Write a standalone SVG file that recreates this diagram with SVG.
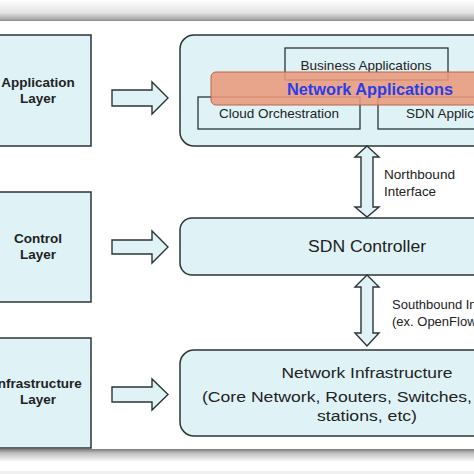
<svg xmlns="http://www.w3.org/2000/svg" width="474" height="474" viewBox="0 0 474 474">
<defs>
<linearGradient id="topg" x1="0" y1="0" x2="0" y2="1">
<stop offset="0" stop-color="#ffffff"/>
<stop offset="0.6" stop-color="#e4e4e4"/>
<stop offset="0.92" stop-color="#a8a8a8"/>
<stop offset="1" stop-color="#8a8a8a"/>
</linearGradient>
<linearGradient id="botg" x1="0" y1="0" x2="0" y2="1">
<stop offset="0" stop-color="#7a7a7a"/>
<stop offset="0.3" stop-color="#bdbdbd"/>
<stop offset="1" stop-color="#ffffff"/>
</linearGradient>
<style>
.box{fill:#dff3f7;stroke:#2b3535;stroke-width:1.5}
.inner{fill:#dff3f7;stroke:#2b3535;stroke-width:1.3}
.arr{fill:#dff3f7;stroke:#2b3535;stroke-width:1.4;stroke-linejoin:miter}
.lbl{font-family:"Liberation Sans",Arial,sans-serif;font-weight:bold;font-size:13.5px;fill:#222;text-anchor:middle}
.t{font-family:"Liberation Sans",Arial,sans-serif;fill:#222}
</style>
</defs>
<rect x="0" y="0" width="474" height="474" fill="#ffffff"/>
<rect x="0" y="0" width="474" height="21" fill="url(#topg)"/>
<rect x="0" y="449" width="474" height="13" fill="url(#botg)"/>
<rect x="0" y="471" width="474" height="3" fill="#f0f0f0"/>

<g id="app-layer">
<rect class="box" x="-5" y="35" width="96" height="111"/>
<text class="lbl" x="38" y="87">Application</text>
<text class="lbl" x="38" y="103">Layer</text>
</g>
<g id="control-layer">
<rect class="box" x="-5" y="192" width="96" height="110"/>
<text class="lbl" x="38" y="243">Control</text>
<text class="lbl" x="38" y="259">Layer</text>
</g>
<g id="infra-layer">
<rect class="box" x="-5" y="338" width="96" height="110"/>
<text class="lbl" x="38" y="388">Infrastructure</text>
<text class="lbl" x="38" y="404">Layer</text>
</g>

<g id="app-plane">
<rect class="box" x="180" y="35" width="320" height="111" rx="14"/>
<g id="business-apps">
<rect class="inner" x="285" y="48" width="163" height="32"/>
<text class="t" x="366" y="70" font-size="13" text-anchor="middle" textLength="131" lengthAdjust="spacingAndGlyphs">Business Applications</text>
</g>
<g id="cloud-orch">
<rect class="inner" x="198" y="97" width="162" height="32"/>
<text class="t" x="279" y="118" font-size="13" text-anchor="middle" textLength="120" lengthAdjust="spacingAndGlyphs">Cloud Orchestration</text>
</g>
<g id="sdn-apps">
<rect class="inner" x="378" y="97" width="130" height="32"/>
<text class="t" x="406" y="118" font-size="13" textLength="104" lengthAdjust="spacingAndGlyphs">SDN Applications</text>
</g>
<g id="network-apps">
<rect x="211" y="72" width="290" height="33" rx="5" fill="#ea9a7c" fill-opacity="0.88" stroke="#b8654a" stroke-width="1"/>
<text x="370" y="95" font-family="'Liberation Sans',Arial,sans-serif" font-weight="bold" font-size="16" fill="#2a3de8" text-anchor="middle" textLength="166" lengthAdjust="spacingAndGlyphs">Network Applications</text>
</g>
</g>

<g id="sdn-controller">
<rect class="box" x="180" y="218" width="320" height="57" rx="12"/>
<text class="t" x="367" y="252" font-size="16" text-anchor="middle" textLength="118" lengthAdjust="spacingAndGlyphs">SDN Controller</text>
</g>

<g id="network-infra">
<rect class="box" x="180" y="350" width="320" height="86" rx="14"/>
<text class="t" x="367" y="378" font-size="15.5" text-anchor="middle" textLength="171" lengthAdjust="spacingAndGlyphs">Network Infrastructure</text>
<text class="t" x="202" y="402" font-size="15.5" textLength="315" lengthAdjust="spacingAndGlyphs">(Core Network, Routers, Switches, Base</text>
<text class="t" x="367" y="421" font-size="15.5" text-anchor="middle" textLength="100" lengthAdjust="spacingAndGlyphs">stations, etc)</text>
</g>

<g id="connectors">
<path class="arr" d="M112,90 H152 V82 L168,98 L152,114 V106 H112 Z"/>
<path class="arr" d="M112,240 H152 V231 L168,247 L152,263 V254 H112 Z"/>
<path class="arr" d="M112,387 H152 V379 L168,394.5 L152,410 V402 H112 Z"/>
<path class="arr" d="M367,146 L379,157 H373 V207 H379 L367,217 L355,207 H361 V157 H355 Z"/>
<path class="arr" d="M367,275 L379,287 H373 V333 H379 L367,346 L355,333 H361 V287 H355 Z"/>
<text class="t" x="384" y="179" font-size="12.5" textLength="71" lengthAdjust="spacingAndGlyphs">Northbound</text>
<text class="t" x="384" y="196" font-size="12.5" textLength="52" lengthAdjust="spacingAndGlyphs">Interface</text>
<text class="t" x="392" y="309" font-size="13">Southbound Interface</text>
<text class="t" x="392" y="326" font-size="13">(ex. OpenFlow)</text>
</g>
</svg>
